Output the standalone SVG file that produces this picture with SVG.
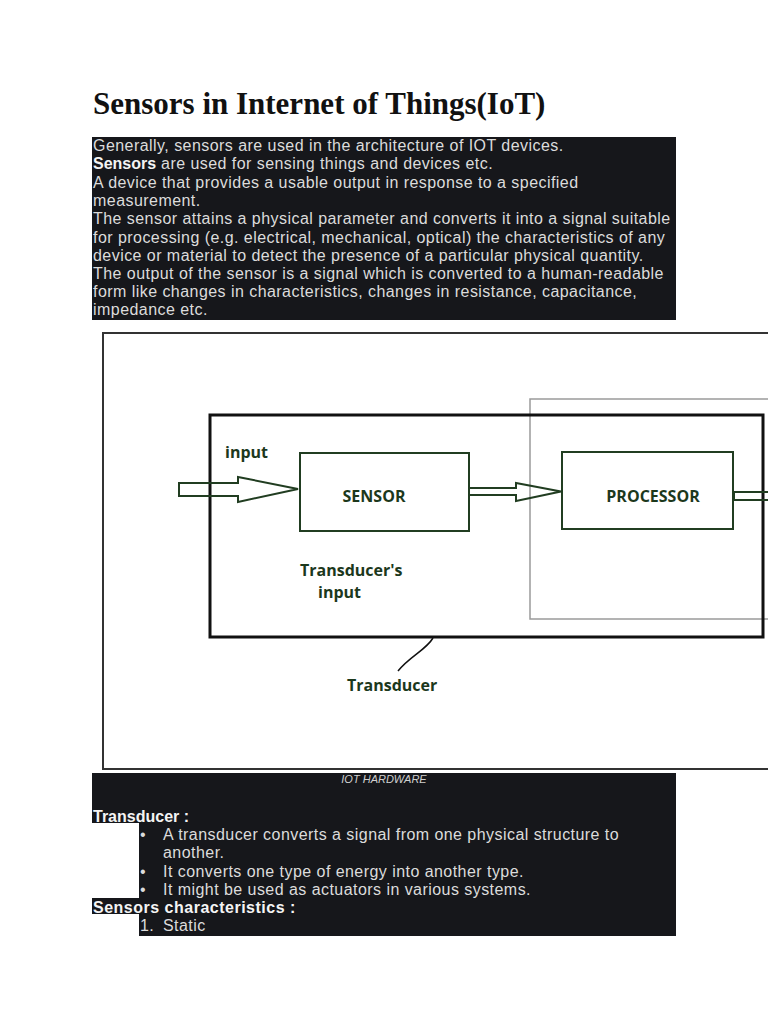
<svg xmlns="http://www.w3.org/2000/svg" width="768" height="1024" viewBox="0 0 768 1024">
<style>
.title{font-family:"Liberation Serif","Times New Roman",serif;font-weight:bold;font-size:31px;fill:#111}
.dk{fill:#16171b}
.t{font-family:"Liberation Sans",Arial,sans-serif;font-size:16px;letter-spacing:0.45px;fill:#dcdcdc}
.b{font-weight:bold;fill:#f4f4f4;letter-spacing:0}
.cap{font-family:"Liberation Sans",Arial,sans-serif;font-size:11px;font-style:italic;fill:#cfcfcf}
.lbl{font-family:"Open Sans","Noto Sans",sans-serif;font-weight:bold;font-size:16px;fill:#1c381c}
.box{fill:#fff;stroke:#213d21;stroke-width:2}
.arr{fill:none;stroke:#213d21;stroke-width:2;stroke-linejoin:miter}
</style>
<rect width="768" height="1024" fill="#fff"/>
<text class="title" x="93" y="114">Sensors in Internet of Things(IoT)</text>

<g id="intro">
<rect class="dk" x="92" y="137" width="584" height="183"/>
<text class="t" x="93" y="151">Generally, sensors are used in the architecture of IOT devices.</text>
<text class="t" x="93" y="169"><tspan class="b">Sensors</tspan> are used for sensing things and devices etc.</text>
<text class="t" x="93" y="188">A device that provides a usable output in response to a specified</text>
<text class="t" x="93" y="206">measurement.</text>
<text class="t" x="93" y="224">The sensor attains a physical parameter and converts it into a signal suitable</text>
<text class="t" x="93" y="243">for processing (e.g. electrical, mechanical, optical) the characteristics of any</text>
<text class="t" x="93" y="261">device or material to detect the presence of a particular physical quantity.</text>
<text class="t" x="93" y="279">The output of the sensor is a signal which is converted to a human-readable</text>
<text class="t" x="93" y="297">form like changes in characteristics, changes in resistance, capacitance,</text>
<text class="t" x="93" y="315">impedance etc.</text>
</g>

<g id="frame">
<rect x="103" y="333" width="700" height="436" fill="#fff" stroke="#333" stroke-width="2"/>
</g>
<g id="processor-frame">
<rect x="530" y="399" width="260" height="220" fill="none" stroke="#9a9a9a" stroke-width="1.5"/>
</g>
<g id="transducer-box">
<rect x="210" y="415" width="553" height="222" fill="none" stroke="#111" stroke-width="3"/>
</g>
<g id="sensor">
<rect class="box" x="300" y="453" width="169" height="78"/>
<text class="lbl" x="374" y="502" text-anchor="middle">SENSOR</text>
</g>
<g id="processor">
<rect class="box" x="562" y="452" width="171" height="77"/>
<text class="lbl" x="653" y="502" text-anchor="middle">PROCESSOR</text>
</g>

<g id="connectors">
<polygon class="arr" points="179,483 238,483 238,477 298,489 238,502 238,496 179,496"/>
<polygon class="arr" points="469,488 516,488 516,483 561,491.5 516,501 516,495 469,495"/>
<path class="arr" d="M733,492 H770 M733,500 H770 M734,492 V500"/>
<path d="M433,638 C426,650 410,656 398,671" fill="none" stroke="#111" stroke-width="1.5"/>
</g>

<g id="labels">
<text class="lbl" x="225" y="458">input</text>
<text class="lbl" x="300" y="576">Transducer's</text>
<text class="lbl" x="318" y="598">input</text>
<text class="lbl" x="347" y="691">Transducer</text>
</g>

<g id="details">
<rect class="dk" x="92" y="773" width="584" height="50"/>
<rect class="dk" x="139" y="823" width="537" height="113"/>
<rect class="dk" x="92" y="898" width="215" height="16"/>
<text class="cap" x="384" y="783" text-anchor="middle">IOT HARDWARE</text>
<text class="t b" x="93" y="822">Transducer :</text>
<text class="t" x="140" y="840">•</text>
<text class="t" x="163" y="840">A transducer converts a signal from one physical structure to</text>
<text class="t" x="163" y="858">another.</text>
<text class="t" x="140" y="877">•</text>
<text class="t" x="163" y="877">It converts one type of energy into another type.</text>
<text class="t" x="140" y="895">•</text>
<text class="t" x="163" y="895">It might be used as actuators in various systems.</text>
<text class="t b" x="93" y="913" style="letter-spacing:0.5px">Sensors characteristics :</text>
<text class="t" x="140" y="931">1.</text>
<text class="t" x="163" y="931">Static</text>
</g>
</svg>
